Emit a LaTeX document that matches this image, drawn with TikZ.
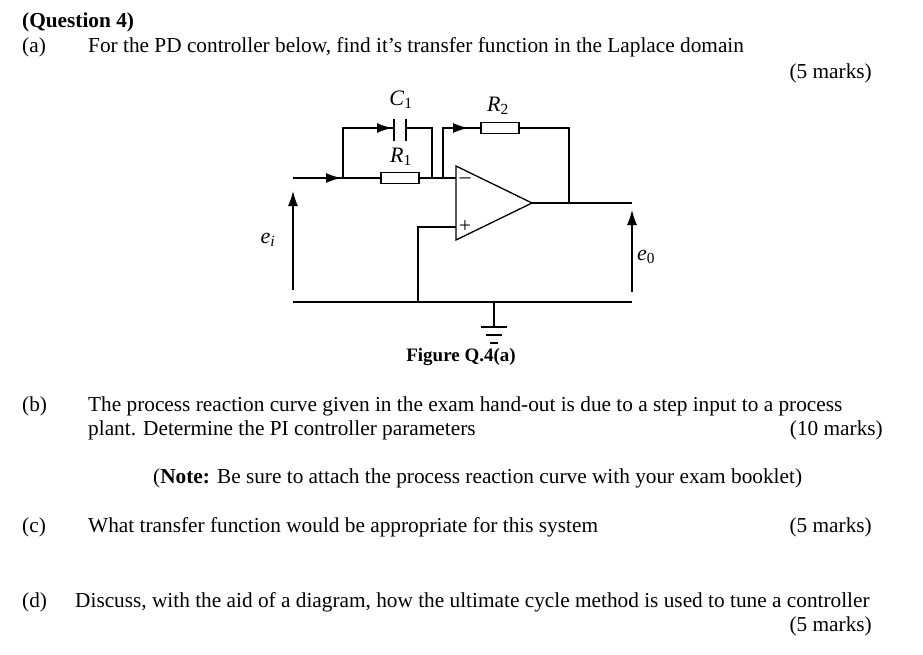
\documentclass[tikz,border=0pt]{standalone}
\usepackage{fontspec}
\setmainfont{Liberation Serif}
\begin{document}
\begin{tikzpicture}[x=1pt,y=-1pt,inner sep=0pt,
  txt/.style={anchor=west,font=\fontsize{21.3}{24}\selectfont},
  rtxt/.style={anchor=east,font=\fontsize{21.3}{24}\selectfont},
  lbl/.style={font=\fontsize{22}{24}\selectfont},
  wire/.style={line width=1.3pt},
  res/.style={draw,line width=1.3pt,fill=white,minimum width=38pt,minimum height=11pt},
  arr/.style={-{Latex[length=15pt,width=10pt]},line width=1.3pt}]
\usetikzlibrary{arrows.meta}
\useasboundingbox (0,0) rectangle (923,655);
\node[txt,font=\fontsize{21.3}{24}\selectfont\bfseries] (q) at (22,22) {(Question 4)};
\node[txt] (a) at (22,47) {(a)};
\node[txt] (at) at (88,47) {For the PD controller below, find it’s transfer function in the Laplace domain};
\node[rtxt] (am) at (872,73) {(5 marks)};
\node[txt] (b) at (22,406) {(b)};
\node[txt] (bt) at (88,406) {The process reaction curve given in the exam hand-out is due to a step input to a process};
\node[txt] (bt2) at (88,430) {plant. Determine the PI controller parameters};
\node[rtxt] (bm) at (883,430) {(10 marks)};
\node[txt] (n) at (153,478) {(\textbf{Note:} Be sure to attach the process reaction curve with your exam booklet)};
\node[txt] (c) at (22,527) {(c)};
\node[txt] (ct) at (88,527) {What transfer function would be appropriate for this system};
\node[rtxt] (cm) at (872,527) {(5 marks)};
\node[txt] (d) at (22,602) {(d)};
\node[txt] (dt) at (75,602) {Discuss, with the aid of a diagram, how the ultimate cycle method is used to tune a controller};
\node[rtxt] (dm) at (872,626) {(5 marks)};
\node[font=\fontsize{19}{22}\selectfont\bfseries] (fig) at (461,357) {Figure Q.4(a)};
% circuit
\draw[wire] (456,166) -- (532,203) -- (456,240) -- cycle;
\node[font=\fontsize{22}{22}\selectfont] (minus) at (465,181) {\textendash};
\node[font=\fontsize{21}{22}\selectfont] (plus) at (465,227) {+};
\coordinate (in) at (293,178);
\coordinate (j1) at (343,178);
\coordinate (j2) at (432,178);
\coordinate (j3) at (443,178);
\coordinate (inv) at (456,178);
\draw[wire] (in) -- (inv);
\draw[arr] (in) -- (341,178);
\node[res] (r1) at (400,178) {};
\draw[wire] (j1) |- (394,128);
\draw[arr] (j1|-0,128) -- (392,128);
\draw[wire] (394,119) -- (394,141) (406,119) -- (406,141);
\draw[wire] (406,128) -| (j2);
\draw[wire] (j3) |- (569,128) -- (569,203);
\draw[arr] (j3|-0,128) -- (468,128);
\node[res] (r2) at (500,128) {};
\draw[wire] (532,203) -- (632,203);
\draw[wire] (456,227) -| (418,302);
\draw[wire] (293,302) -- (632,302);
\draw[arr] (293,290) -- (293,191);
\draw[arr] (632,292) -- (632,210);
\draw[wire] (494,302) -- (494,327);
\draw[wire] (481,327) -- (507,327) (486,335) -- (502,335) (490,343) -- (498,343);
\node[lbl] (c1) at (401,100) {\textit{C}\textsubscript{1}};
\node[lbl] (lr1) at (401,157) {\textit{R}\textsubscript{1}};
\node[lbl] (lr2) at (498,106) {\textit{R}\textsubscript{2}};
\node[lbl] (ei) at (268,240) {\textit{e}\textsubscript{\textit{i}}};
\node[lbl] (eo) at (646,257) {\textit{e}\textsubscript{0}};
\end{tikzpicture}
\end{document}
